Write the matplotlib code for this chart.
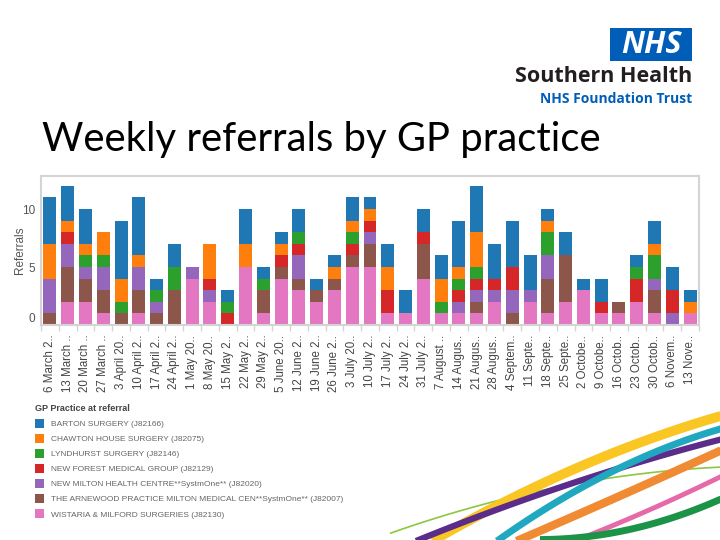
import numpy as np
import matplotlib
matplotlib.use("Agg")
import matplotlib.pyplot as plt
from matplotlib.patches import Patch, Rectangle

weeks = ["6 March 2..", "13 March ..", "20 March ..", "27 March ..", "3 April 20..",
         "10 April 2..", "17 April 2..", "24 April 2..", "1 May 20..", "8 May 20..",
         "15 May 2..", "22 May 2..", "29 May 2..", "5 June 20..", "12 June 2..",
         "19 June 2..", "26 June 2..", "3 July 20..", "10 July 2..", "17 July 2..",
         "24 July 2..", "31 July 2..", "7 August ..", "14 Augus..", "21 Augus..",
         "28 Augus..", "4 Septem..", "11 Septe..", "18 Septe..", "25 Septe..",
         "2 Octobe..", "9 Octobe..", "16 Octob..", "23 Octob..", "30 Octob..",
         "6 Novem..", "13 Nove.."]

practices = ["BARTON SURGERY (J82166)",
             "CHAWTON HOUSE SURGERY (J82075)",
             "LYNDHURST SURGERY (J82146)",
             "NEW FOREST MEDICAL GROUP (J82129)",
             "NEW MILTON HEALTH CENTRE**SystmOne** (J82020)",
             "THE ARNEWOOD PRACTICE MILTON MEDICAL CEN**SystmOne** (J82007)",
             "WISTARIA & MILFORD SURGERIES (J82130)"]

barton    = [4, 3, 3, 0, 5, 5, 1, 2, 0, 0, 1, 3, 1, 1, 2, 1, 1, 2, 1, 2, 2, 2, 2, 4, 4, 3, 4, 3, 1, 2, 1, 2, 0, 1, 2, 2, 1]
chawton   = [3, 1, 1, 2, 2, 1, 0, 0, 0, 3, 0, 2, 0, 1, 0, 0, 1, 1, 1, 2, 0, 0, 2, 1, 3, 0, 0, 0, 1, 0, 0, 0, 0, 0, 1, 0, 1]
lyndhurst = [0, 0, 1, 1, 1, 0, 1, 2, 0, 0, 1, 0, 1, 0, 1, 0, 0, 1, 0, 0, 0, 0, 1, 1, 1, 0, 0, 0, 2, 0, 0, 0, 0, 1, 2, 0, 0]
newforest = [0, 1, 0, 0, 0, 0, 0, 0, 0, 1, 1, 0, 0, 1, 1, 0, 0, 1, 1, 2, 0, 1, 0, 1, 1, 1, 2, 0, 0, 0, 0, 1, 0, 2, 0, 2, 0]
newmilton = [3, 2, 1, 2, 0, 2, 1, 0, 1, 1, 0, 0, 0, 0, 2, 0, 0, 0, 1, 0, 0, 0, 0, 1, 1, 1, 2, 1, 2, 0, 0, 0, 0, 0, 1, 1, 0]
arnewood  = [1, 3, 2, 2, 1, 2, 1, 3, 0, 0, 0, 0, 2, 1, 1, 1, 1, 1, 2, 0, 0, 3, 0, 0, 1, 0, 1, 0, 3, 4, 0, 0, 1, 0, 2, 0, 0]
wistaria  = [0, 2, 2, 1, 0, 1, 0, 0, 4, 2, 0, 5, 1, 4, 3, 2, 3, 5, 5, 1, 1, 4, 1, 1, 1, 2, 0, 2, 1, 2, 3, 1, 1, 2, 1, 0, 1]

colors = ["#1f77b4", "#ff7f0e", "#2ca02c", "#d62728", "#9467bd", "#8c564b", "#e377c2"]
series = [barton, chawton, lyndhurst, newforest, newmilton, arnewood, wistaria]

W, H = 720, 540
fig = plt.figure(figsize=(7.2, 5.4), dpi=100)
fig.patch.set_facecolor("white")
plt.rcParams["font.family"] = ["Liberation Sans", "DejaVu Sans"]

def px(x, y):
    return x / W, 1 - y / H

# chart
ax = fig.add_axes([41 / W, 1 - 325 / H, 658 / W, 149 / H])
x = np.arange(len(weeks))
bottom = np.zeros(len(weeks))
# stack from the last practice (pink) at the bottom up to the first (blue)
for vals, col in zip(series[::-1], colors[::-1]):
    ax.bar(x, vals, bottom=bottom, width=0.73, color=col, linewidth=0)
    bottom += np.array(vals)

ax.set_xlim(-0.48, len(weeks) - 0.52)
ax.set_ylim(0, 12.85)
for s in ax.spines.values():
    s.set_color("#d4d4d4")
    s.set_linewidth(1.5)
ax.set_yticks([0, 5, 10])
ax.tick_params(axis="y", length=0, labelsize=8.5, labelcolor="#555555", pad=4)
for lab in ax.get_yticklabels():
    if lab.get_text() == "0":
        lab.set_va("bottom")
ax.set_ylabel("Referrals", fontsize=8.5, color="#555555")
ax.yaxis.set_label_coords(-15 / 658, 0.5)
ax.set_xticks(x)
ax.set_xticklabels(weeks, rotation=90, fontsize=8.3, color="#444444", va="top")
ax.tick_params(axis="x", length=0, pad=7)
ax.set_xticks(np.arange(-0.5, len(weeks), 1), minor=True)
ax.tick_params(axis="x", which="minor", length=4, color="#d4d4d4", width=1)

# legend
handles = [Patch(facecolor=c, edgecolor="none") for c in colors]
leg = fig.legend(handles, practices, loc="upper left",
                 bbox_to_anchor=px(35, 404), frameon=False,
                 title="GP Practice at referral", alignment="left",
                 prop={"family": "Liberation Sans", "size": 6},
                 title_fontproperties={"family": "Liberation Sans", "size": 6.5,
                                       "weight": "bold"},
                 handlelength=1.1, handleheight=1.2, handletextpad=0.8,
                 labelspacing=0.72, borderaxespad=0, borderpad=0)
for t in leg.get_texts():
    t.set_color("#666666")
leg.get_title().set_color("#444444")

# title
tx, ty = px(42, 140)
title = fig.text(tx, ty, "Weekly referrals by GP practice", fontsize=30,
                 family="Lato", color="black", va="center", ha="left")
fig.canvas.draw()
w = title.get_window_extent().width
title.set_fontsize(30 * 558 / w)

# NHS logo
bx0, by0 = px(610, 61)
fig.patches.append(Rectangle((bx0, by0), 82 / W, 33 / H, transform=fig.transFigure,
                             facecolor="#005eb8", edgecolor="none"))
fig.text(*px(651, 45), "NHS", fontsize=22, fontweight="bold", style="italic",
         family="Open Sans", color="white", ha="center", va="center")
fig.text(*px(692, 77), "Southern Health", fontsize=15.5, fontweight="bold",
         family="Open Sans", color="#231f20", ha="right", va="center")
fig.text(*px(692, 99), "NHS Foundation Trust", fontsize=10, fontweight="bold",
         family="Open Sans", color="#005eb8", ha="right", va="center")

# decorative swooshes bottom right
swooshes = [
    ("#8dc63f", 1.2, [(400, 530), (510, 497), (560, 487), (633, 475), (720, 467)]),
    ("#f9c624", 7, [(433, 540), (533, 490), (633, 443), (720, 417)]),
    ("#5b2c8a", 4.5, [(417, 540), (500, 510), (600, 473), (720, 440)]),
    ("#1fa8c0", 5, [(500, 540), (567, 493), (650, 457), (720, 428)]),
    ("#f08b33", 6, [(520, 540), (600, 503), (667, 477), (720, 450)]),
    ("#e66aa8", 3.5, [(577, 540), (633, 517), (720, 477)]),
    ("#1b9447", 5, [(550, 540), (617, 530), (683, 517), (720, 498)]),
]
for col, lw, pts in swooshes:
    p = np.array(pts, dtype=float)
    coef = np.polyfit(p[:, 0], p[:, 1], 2)
    xs = np.linspace(p[0, 0] - 10, 730, 80)
    ys = np.polyval(coef, xs)
    fig.add_artist(plt.Line2D(xs / W, 1 - ys / H, color=col, linewidth=lw,
                              solid_capstyle="butt", transform=fig.transFigure))

fig.savefig("out.png", dpi=100, facecolor="white")
